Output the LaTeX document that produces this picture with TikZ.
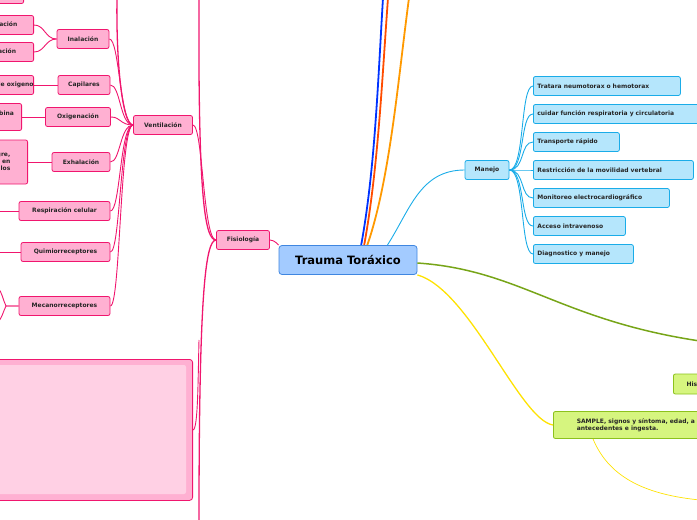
\documentclass[tikz,border=0pt]{standalone}
\usepackage{fontspec}
\setmainfont{DejaVu Sans}
\begin{document}
\begin{tikzpicture}[x=1pt,y=-1pt,
 pk/.style={draw=pkline,fill=pkfill,rounded corners=2pt,line width=0.8pt,font=\bfseries\fontsize{6}{6.8}\selectfont,inner sep=0pt,minimum height=19pt,text=black!85},
 bl/.style={draw=blline,fill=blfill,rounded corners=2pt,line width=0.8pt,font=\bfseries\fontsize{6}{6.8}\selectfont,inner sep=0pt,minimum height=19pt,text=black!85,anchor=west,align=left,text width=#1},
 gr/.style={draw=grline,fill=grfill,rounded corners=2pt,line width=0.8pt,font=\bfseries\fontsize{6}{6.8}\selectfont,inner sep=3pt,text=black!85,anchor=west,align=left},
 pe/.style={draw=pkline,line width=0.9pt},
 be/.style={draw=blline,line width=0.9pt}]
\definecolor{pkline}{HTML}{F0166E}\definecolor{pkfill}{HTML}{FFB0D2}
\definecolor{blline}{HTML}{1AACE8}\definecolor{blfill}{HTML}{B5E6FC}
\definecolor{grline}{HTML}{8CC21C}\definecolor{grfill}{HTML}{D6F57F}
\definecolor{cfill}{HTML}{A3CBFF}\definecolor{cline}{HTML}{3F86E0}
\useasboundingbox (0,0) rectangle (697,520);
\clip (0,0) rectangle (697,520);
% colored lines to top
\draw[color=blue!80!cyan,line width=1.8pt] (361,246) .. controls (375,170) and (378,80) .. (383,-2);
\draw[color=orange!60!red,line width=1.8pt] (364,246) .. controls (378,170) and (382,80) .. (388,-2);
\draw[color=orange!80!yellow,line width=1.8pt] (367,246) .. controls (390,180) and (398,80) .. (409,-2);
% central
\node[draw=cline,fill=cfill,rounded corners=3pt,line width=0.8pt,minimum width=138pt,minimum height=29pt,font=\bfseries\fontsize{11.5}{13}\selectfont] (c) at (348,260) {Trauma Toráxico};
% Manejo
\node[bl=44pt,align=center,anchor=center,text width=44pt] (m) at (487,170) {Manejo};
\draw[be] (c.north east) ++(-30,0) coordinate (cm) .. controls (410,210) and (420,170) .. (m.west);
\foreach \t/\y/\w [count=\i] in {Tratara neumotorax o hemotorax/86/147,cuidar función respiratoria y circulatoria/114/175,Transporte rápido/142/86,Restricción de la movilidad vertebral/170/160,Monitoreo electrocardiográfico/198/136,Acceso intravenoso/226/92,Diagnostico y manejo/254/100}{
 \node[bl=\w pt,text width={\w pt-8pt},inner xsep=4pt] (b\i) at (533,\y) {\t};
 \draw[be] (m.east) .. controls (525,170) and (520,\y) .. (b\i.west);}
% green / yellow
\node[gr,minimum height=20pt,minimum width=40pt,inner xsep=8pt] (h) at (673,384) {Hist};
\node[gr,minimum height=27pt,minimum width=165pt,inner xsep=8pt] (s) at (553,425) {SAMPLE, signos y síntoma, edad, a\\antecedentes e ingesta.};
\coordinate (g1) at (700,341);
\coordinate (y1) at (700,500);
\draw[color=grline!85!black,line width=1.5pt] (c.east) ++(0,3) .. controls (520,270) and (560,320) .. (g1);
\draw[color=yellow!85!orange,line width=1.3pt] (c.south east) .. controls (470,290) and (520,420) .. (s.west);
\draw[color=yellow!85!orange,line width=0.7pt] (s.south west) ++(40,0) .. controls (610,480) and (650,495) .. (y1);
% Fisiologia
\node[pk,minimum width=53pt] (f) at (243,240) {Fisiología};
\draw[pe] (f.east) .. controls (275,240) and (278,245) .. (c.north west);
\coordinate (ft) at (199,-2); \coordinate (fb) at (199,522);
\draw[pe,line width=1.3pt] (f.west) .. controls (205,240) and (198,200) .. (ft);
\draw[pe,line width=1.3pt] (f.west) .. controls (205,240) and (199,300) .. (fb);
\node[pk,minimum width=59pt] (v) at (163,125) {Ventilación};
\draw[pe] (f.west) .. controls (203,240) and (203,125) .. (v.east);
% big box
\node[draw=pkline,fill=pkfill,rounded corners=3pt,line width=0.8pt,minimum width=205pt,minimum height=141pt,anchor=north east,inner sep=0pt] (bb) at (193,359) {};
\fill[pkfill!60!white,rounded corners=2pt] (-20,365) rectangle (186,494);
\draw[pe] (bb.east) .. controls (198,430) and (198,380) .. (199,340);
% ventilation children
\node[pk,minimum width=52pt] (inh) at (83,39) {Inalación};
\node[pk,minimum width=52pt] (cap) at (84,85) {Capilares};
\node[pk,minimum width=65pt] (oxg) at (78,117) {Oxigenación};
\node[pk,minimum width=58pt] (exh) at (81,162) {Exhalación};
\node[pk,minimum width=91pt] (rcl) at (64.5,211) {Respiración celular};
\node[pk,minimum width=89pt] (qui) at (65.5,252) {Quimiorreceptores};
\node[pk,minimum width=91pt] (mec) at (64.5,306) {Mecanorreceptores};
\coordinate (vt) at (117,-2);
\draw[pe,line width=1.3pt] (v.west) .. controls (122,125) and (116,60) .. (vt);
\foreach \n in {inh,cap,oxg,exh,rcl,qui,mec}{\draw[pe] (v.west) .. controls (120,125) and ([xshift=10pt]\n.east) .. (\n.east);}
% far-left children
\node[pk,minimum width=70pt,anchor=east] (i1) at (34,25) {Inspiración};
\node[pk,minimum width=70pt,anchor=east] (i2) at (34,52) {Espiración};
\node[pk,minimum width=80pt,anchor=east] (o1) at (34,85) {Intercambio de oxigeno};
\node[pk,minimum width=60pt,minimum height=27pt,anchor=east,align=right] (o2) at (22,117) {Hemoglobina\\~};
\node[pk,minimum width=60pt,minimum height=44pt,anchor=east,align=right] (e1) at (28,162) {sangre,\\ en\\de los};
\node[pk,minimum width=60pt,anchor=east] (t0) at (24,-6) {~};
\draw[pe] (inh.west) .. controls (45,39) and (45,25) .. (i1.east);
\draw[pe] (inh.west) .. controls (45,39) and (45,52) .. (i2.east);
\draw[pe] (cap.west) -- (o1.east);
\draw[pe] (oxg.west) -- (o2.east);
\draw[pe] (exh.west) -- (e1.east);
\draw[pe] (t0.east) .. controls (40,-6) and (100,-4) .. (vt);
\coordinate (r1) at (-2,211); \coordinate (q1) at (-2,252);
\coordinate (m1) at (-2,288); \coordinate (m2) at (-2,322);
\draw[pe] (rcl.west) -- (r1); \draw[pe] (qui.west) -- (q1);
\draw[pe] (mec.west) -- (6,306) .. controls (3,300) and (2,292) .. (m1);
\draw[pe] (mec.west) -- (6,306) .. controls (3,312) and (2,318) .. (m2);
\end{tikzpicture}
\end{document}
